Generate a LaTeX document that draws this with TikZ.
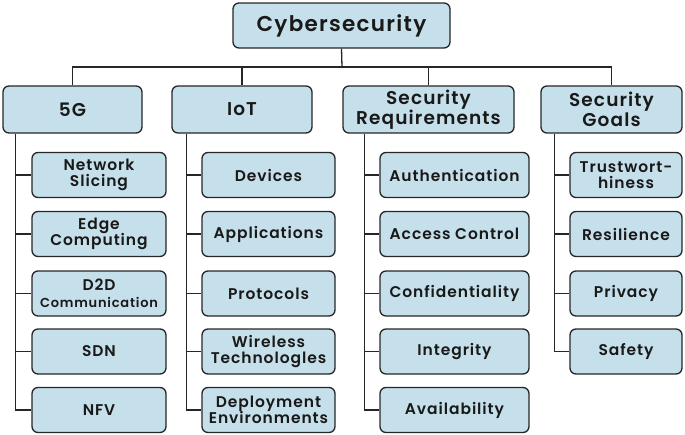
\documentclass[tikz,border=0pt]{standalone}
\usepackage{fontspec}
\setmainfont{Poppins SemiBold}[LetterSpace=6]
\begin{document}
\begin{tikzpicture}[x=1pt,y=-1pt,
  box/.style={draw=black!85, line width=1.3pt, fill=boxblue, rounded corners=6pt, align=center, inner sep=0pt, text=black!90},
  rootbox/.style={box, minimum width=217pt, minimum height=45pt, font=\fontsize{21.5}{23}\selectfont},
  catbox/.style={box, minimum height=47pt, font=\fontsize{18.5}{17.5}\selectfont},
  leafbox/.style={box, minimum height=45pt, font=\fontsize{15.5}{16.5}\selectfont},
  link/.style={draw=black!85, line width=1.3pt}]
\definecolor{boxblue}{RGB}{198,224,235}
\useasboundingbox (0,0) rectangle (685,434);
\node[rootbox] (root) at (341.5,25.5) {Cybersecurity};
\node[catbox, minimum width=139pt] (g5) at (72.5,109.5) {5G};
\node[catbox, minimum width=140pt] (iot) at (242,109.5) {IoT};
\node[catbox, minimum width=171pt] (req) at (428.5,109.5) {Security\\Requirements};
\node[catbox, minimum width=141pt] (goal) at (611.5,109.5) {Security\\Goals};
\coordinate (bus) at (342,67);
\draw[link] (root.south) -- (bus);
\draw[link] (g5.north) |- (bus) -| (goal.north);
\draw[link] (iot.north) -- (iot.north |- bus);
\draw[link] (req.north) -- (req.north |- bus);
% leaves
\foreach \n/\x/\w/\y/\t in {
  a1/99/134/175/{Network\\Slicing}, a2/99/134/234/{Edge\\Computing}, a3/99/134/293.5/{D2D\\{\fontsize{13}{15}\selectfont Communication}}, a4/99/134/351.5/SDN, a5/99/134/410/NFV,
  b1/268.5/133/175/Devices, b2/268.5/133/234/Applications, b3/268.5/133/293.5/Protocols, b4/268.5/133/351.5/{Wireless\\Technologles}, b5/268.5/133/410/{Deployment\\Environments},
  c1/454.5/149/175/Authentication, c2/454.5/149/234/Access Control, c3/454.5/149/293.5/Confidentiality, c4/454.5/149/351.5/Integrity, c5/454.5/149/410/Availability,
  d1/626/112/175/{Trustwort-\\hiness}, d2/626/112/234/Resilience, d3/626/112/293.5/Privacy, d4/626/112/351.5/Safety}
  {\node[leafbox, minimum width=\w pt] (\n) at (\x,\y) {\t};}
\coordinate (ta) at ([xshift=13pt]g5.south west);
\coordinate (tb) at ([xshift=15pt]iot.south west);
\coordinate (tc) at ([xshift=22pt]req.south west);
\coordinate (td) at ([xshift=14pt]goal.south west);
\draw[link] (ta) |- (a5.west);
\foreach \n in {a1,a2,a3,a4} {\draw[link] (ta |- \n.west) -- (\n.west);}
\draw[link] (tb) |- (b5.west);
\foreach \n in {b1,b2,b3,b4} {\draw[link] (tb |- \n.west) -- (\n.west);}
\draw[link] (tc) |- (c5.west);
\foreach \n in {c1,c2,c3,c4} {\draw[link] (tc |- \n.west) -- (\n.west);}
\draw[link] (td) |- (d4.west);
\foreach \n in {d1,d2,d3} {\draw[link] (td |- \n.west) -- (\n.west);}
\end{tikzpicture}
\end{document}
